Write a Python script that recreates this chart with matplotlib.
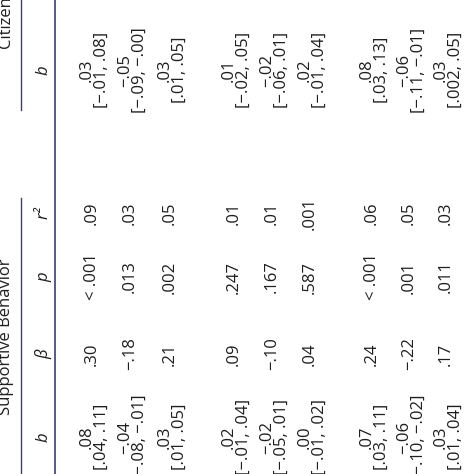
import matplotlib
matplotlib.use("Agg")
import matplotlib.pyplot as plt

plt.rcParams['font.family'] = ['Open Sans', 'DejaVu Sans']

# rows (rotated table: each row is a vertical strip)
sb_b = [".08", "\u2212.04", ".03", ".02", "\u2212.02", ".00", ".07", "\u2212.06", ".03"]
sb_b_ci = ["[.04, .11]", "[\u2212.08, \u2212.01]", "[.01, .05]",
           "[\u2212.01, .04]", "[\u2212.05, .01]", "[\u2212.01, .02]",
           "[.03, .11]", "[\u2212.10, \u2212.02]", "[.01, .04]"]
sb_beta = [".30", "\u2212.18", ".21", ".09", "\u2212.10", ".04", ".24", "\u2212.22", ".17"]
sb_p = ["< .001", ".013", ".002", ".247", ".167", ".587", "< .001", ".001", ".011"]
sb_r2 = [".09", ".03", ".05", ".01", ".01", ".001", ".06", ".05", ".03"]
ci_b = [".03", "\u2212.05", ".03", ".01", "\u2212.02", ".02", ".08", "\u2212.06", ".03"]
ci_b_ci = ["[\u2212.01, .08]", "[\u2212.09, \u2212.00]", "[.01, .05]",
           "[\u2212.02, .05]", "[\u2212.06, .01]", "[\u2212.01, .04]",
           "[.03, .13]", "[\u2212.11, \u2212.01]", "[.002, .05]"]

row_x = [92, 130, 170, 234, 272, 310, 372, 409, 446]
col_y = {"cb": 70, "r2": 213, "p": 277, "beta": 354, "b": 437}

fig = plt.figure(figsize=(4.74, 4.74), dpi=100)
ax = fig.add_axes([0, 0, 1, 1])
ax.set_xlim(0, 474)
ax.set_ylim(474, 0)
ax.axis("off")

tc = "#1e1e1e"
kw = dict(rotation=90, ha="center", va="center", fontsize=12, color=tc)

ax.text(6, 18, "Citizens", **kw)
ax.text(6, 337, "Supportive Behavior", **kw)
for key, lab in [("cb", "b"), ("r2", "r\u00b2"), ("p", "p"), ("beta", "\u03b2"), ("b", "b")]:
    ax.text(44, col_y[key], lab, style="italic", **kw)

for i, x in enumerate(row_x):
    ax.text(x - 5, col_y["b"], sb_b[i], **kw)
    ax.text(x + 10, col_y["b"], sb_b_ci[i], **kw)
    ax.text(x, col_y["beta"], sb_beta[i], **kw)
    ax.text(x, col_y["p"], sb_p[i], **kw)
    ax.text(x, col_y["r2"], sb_r2[i], **kw)
    ax.text(x - 5, col_y["cb"], ci_b[i], **kw)
    ax.text(x + 10, col_y["cb"], ci_b_ci[i], **kw)

lc = "#3b3f6e"
ax.plot([21, 21], [0, 110], color=lc, lw=1)
ax.plot([21, 21], [198, 474], color=lc, lw=1)
ax.plot([55, 55], [0, 474], color=lc, lw=1.2)

fig.savefig("out.png", dpi=100)
